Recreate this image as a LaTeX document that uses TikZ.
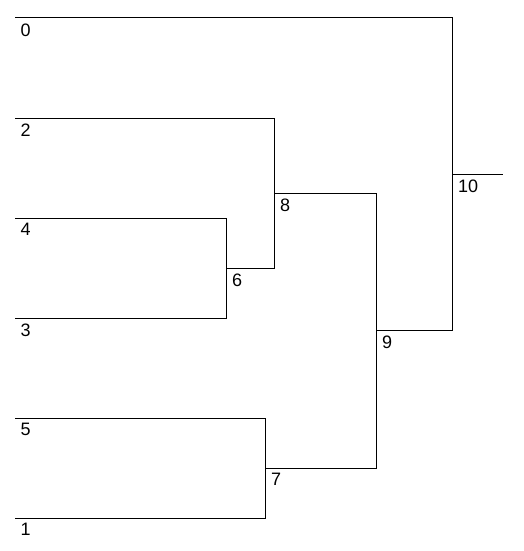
\documentclass[tikz,border=0pt]{standalone}
\usepackage{fontspec}
\setmainfont{Liberation Sans}
\usepackage{tikz}

\begin{document}
\begin{tikzpicture}[x=1pt,y=-1pt,line width=1pt,
        lbl/.style={font=\fontsize{18}{18}\selectfont,anchor=north west,inner sep=0pt}]
            \useasboundingbox (0,0) rectangle (524,551);
            % leaves
            \coordinate (l0) at (15,18);
            \coordinate (l2) at (15,118);
            \coordinate (l4) at (15,218);
            \coordinate (l3) at (15,318);
            \coordinate (l5) at (15,418);
            \coordinate (l1) at (15,518);
            % merges
            \coordinate (m6) at (226.5,268);
            \coordinate (m8) at (274.5,193);
            \coordinate (m7) at (265.5,468);
            \coordinate (m9) at (376.5,330.5);
            \coordinate (m10) at (452.5,174.25);
            \coordinate (root) at (502.5,174.25);

            \draw (l4) -- (l4 -| m6) -- (l3 -| m6) -- (l3);
            \draw (l2) -- (l2 -| m8) -- (m6 -| m8) -- (m6);
            \draw (l5) -- (l5 -| m7) -- (l1 -| m7) -- (l1);
            \draw (m8) -- (m8 -| m9) -- (m7 -| m9) -- (m7);
            \draw (l0) -- (l0 -| m10) -- (m9 -| m10) -- (m9);
            \draw (m10) -- (root);

            \node[lbl] (t0) at ([shift={(5,5)}]l0) {0};
            \node[lbl] (t2) at ([shift={(5,5)}]l2) {2};
            \node[lbl] (t4) at ([shift={(5,5)}]l4) {4};
            \node[lbl] (t3) at ([shift={(5,5)}]l3) {3};
            \node[lbl] (t5) at ([shift={(5,5)}]l5) {5};
            \node[lbl] (t1) at ([shift={(5,5)}]l1) {1};
            \node[lbl] (t6) at ([shift={(5,5)}]m6) {6};
            \node[lbl] (t8) at ([shift={(5,5)}]m8) {8};
            \node[lbl] (t7) at ([shift={(5,5)}]m7) {7};
            \node[lbl] (t9) at ([shift={(5,5)}]m9) {9};
            \node[lbl] (t10) at ([shift={(5,5)}]m10) {10};
        \end{tikzpicture}
\end{document}
